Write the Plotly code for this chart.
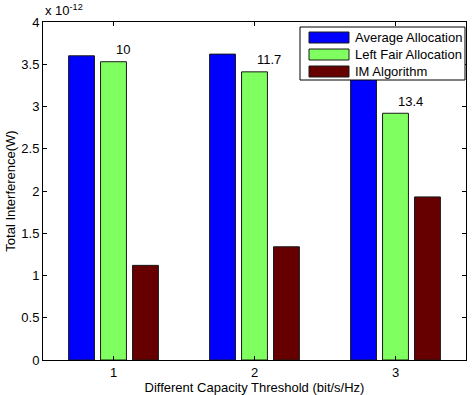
import plotly.graph_objects as go

categories = [1, 2, 3]
average_allocation = [3.60, 3.62, 3.60]      # x 1e-12 W
left_fair_allocation = [3.53, 3.41, 2.92]    # x 1e-12 W
im_algorithm = [1.12, 1.34, 1.93]            # x 1e-12 W
bar_labels = ["10", "11.7", "13.4"]
y_ticks = [0, 0.5, 1, 1.5, 2, 2.5, 3, 3.5, 4]
series_names = ["Average Allocation", "Left Fair Allocation", "IM Algorithm"]
series_colors = ["#0000FF", "#80FF60", "#660000"]

FONT = "Liberation Sans, Arial, Helvetica, sans-serif"
W, H = 474, 395
ML, MR, MT, MB = 43, 8, 22, 35
PW, PH = W - ML - MR, H - MT - MB

def px2paper_x(px):
    return (px - ML) / PW

def px2paper_y(py):
    return (H - MB - py) / PH

fig = go.Figure()
for name, vals, color in zip(series_names,
                             [average_allocation, left_fair_allocation, im_algorithm],
                             series_colors):
    fig.add_trace(go.Bar(
        x=categories, y=vals, name=name, showlegend=False,
        marker=dict(color=color, line=dict(color="#1a1a1a", width=1)),
    ))

for c, v, t in zip(categories, left_fair_allocation, bar_labels):
    fig.add_annotation(x=c + 0.005, y=v + 0.03, text=t, showarrow=False,
                       xanchor="left", yanchor="bottom",
                       font=dict(size=13, color="black", family=FONT))

fig.add_annotation(xref="paper", yref="paper", x=0, y=1.0, yshift=2,
                   text="x 10<sup>-12</sup>", showarrow=False,
                   xanchor="left", yanchor="bottom",
                   font=dict(size=13, color="black", family=FONT))

# legend box (drawn in MATLAB style with wide colour swatches)
shapes = [dict(type="rect", xref="paper", yref="paper",
               x0=px2paper_x(300), x1=px2paper_x(465),
               y0=px2paper_y(80), y1=px2paper_y(27),
               fillcolor="white", line=dict(color="black", width=1), layer="above")]
rows_top = [32, 49, 66]
for i, (name, color) in enumerate(zip(series_names, series_colors)):
    top = rows_top[i]
    shapes.append(dict(type="rect", xref="paper", yref="paper",
                       x0=px2paper_x(309), x1=px2paper_x(349),
                       y0=px2paper_y(top + 11), y1=px2paper_y(top),
                       fillcolor=color, line=dict(color="#1a1a1a", width=1), layer="above"))
    fig.add_annotation(xref="paper", yref="paper", x=px2paper_x(353),
                       y=px2paper_y(top + 5.5), text=name, showarrow=False,
                       xanchor="left", yanchor="middle",
                       font=dict(size=13, color="black", family=FONT))

axis_common = dict(showline=True, linecolor="black", linewidth=1, mirror="ticks",
                   ticks="inside", ticklen=4, tickcolor="black",
                   showgrid=False, zeroline=False, automargin=False,
                   tickfont=dict(size=13, color="black", family=FONT))

fig.update_layout(
    width=W, height=H,
    margin=dict(l=ML, r=MR, t=MT, b=MB),
    paper_bgcolor="white", plot_bgcolor="white",
    barmode="group", bargap=0.32, bargroupgap=0.19,
    font=dict(family=FONT, size=13, color="black"),
    shapes=shapes,
    showlegend=False,
    xaxis=dict(range=[0.5, 3.5], tickvals=categories,
               title=dict(text="Different Capacity Threshold (bit/s/Hz)", standoff=2,
                          font=dict(size=13, family=FONT)),
               **axis_common),
    yaxis=dict(range=[0, 4], tickvals=y_ticks, ticktext=[f"{t:g}" for t in y_ticks],
               title=dict(text="Total Interference(W)", standoff=2,
                          font=dict(size=13, family=FONT)),
               **axis_common),
)

fig.write_html("out.html",
               config={"displayModeBar": False},
               post_script="document.body.style.margin='0';document.body.style.overflow='hidden';")
